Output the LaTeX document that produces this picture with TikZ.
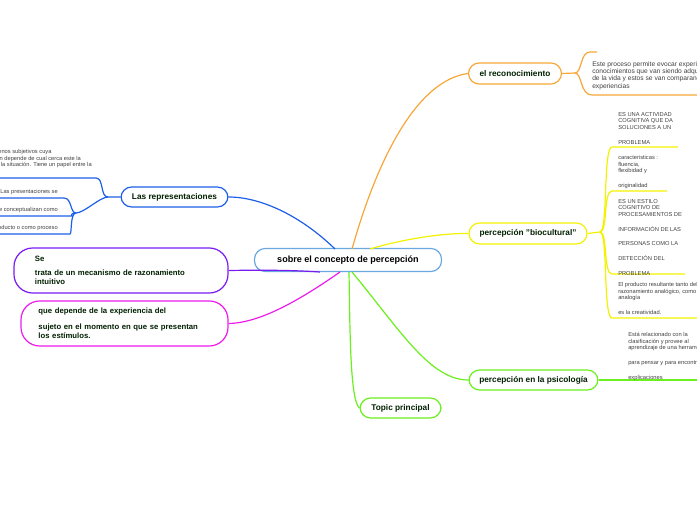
\documentclass[tikz,border=0pt]{standalone}
\usepackage{fontspec}
\setmainfont{Liberation Sans}
\begin{document}
\begin{tikzpicture}[x=0.75pt,y=-0.75pt,
  topic/.style={draw,rounded corners=8pt,line width=0.9pt,font=\fontsize{6.2}{7}\selectfont\bfseries,text=black!80!green!60!black,anchor=center},
  leaf/.style={anchor=north west,align=left,inner sep=0pt,font=\fontsize{4.3}{5}\selectfont,text=black!75},
  lf/.style={line width=0.9pt}]
\path[use as bounding box,clip] (0,0) rectangle (697,520);
\definecolor{cblue}{HTML}{1D5FE8}\definecolor{corange}{HTML}{F7A637}
\definecolor{cyellow}{HTML}{F2F200}\definecolor{cgreen}{HTML}{6AF01C}
\definecolor{cpurple}{HTML}{7A1BF0}\definecolor{cmag}{HTML}{EC1CEC}
\definecolor{clb}{HTML}{6AA8E0}
% nodes
\node[topic,draw=clb,minimum width=187*0.75pt,minimum height=23*0.75pt,font=\fontsize{6.8}{8}\selectfont\bfseries,text=black] (c) at (348,260) {sobre el concepto de percepción};
\node[topic,draw=corange,minimum width=93*0.75pt,minimum height=21*0.75pt] (r) at (515,73.5) {el reconocimiento};
\node[topic,draw=cyellow,minimum width=118*0.75pt,minimum height=21*0.75pt] (b) at (528,233.5) {percepción "biocultural"};
\node[topic,draw=cgreen,minimum width=129*0.75pt,minimum height=20*0.75pt] (p) at (533.5,380) {percepción en la psicología};
\node[topic,draw=cgreen,minimum width=81*0.75pt,minimum height=20*0.75pt] (t) at (400.5,408) {Topic principal};
\node[topic,draw=cblue,minimum width=107*0.75pt,minimum height=20*0.75pt] (l) at (174.5,197) {Las representaciones};
\node[topic,draw=cpurple,rounded corners=14pt,minimum width=214*0.75pt,minimum height=45*0.75pt,text width=172*0.75pt,align=left,font=\fontsize{5.8}{7}\selectfont\bfseries] (s) at (121,270.5) {Se\\[3pt]trata de un mecanismo de razonamiento\\intuitivo};
\node[topic,draw=cmag,rounded corners=14pt,minimum width=207*0.75pt,minimum height=45*0.75pt,text width=172*0.75pt,align=left,font=\fontsize{5.8}{7}\selectfont\bfseries] (q) at (124.5,323.5) {que depende de la experiencia del\\[5pt]sujeto en el momento en que se presentan\\los estímulos.};
% main connectors
\draw[corange,lf] (352,249) .. controls (380,150) and (420,80) .. (r.west);
\draw[cyellow,lf] (370,249) .. controls (400,240) and (440,233) .. (b.west);
\draw[cgreen,lf] (352,272) .. controls (400,330) and (430,380) .. (p.west);
\draw[cgreen,lf] (349,272) .. controls (350,330) and (350,400) .. (t.west);
\draw[cblue,lf] (335,249) .. controls (300,215) and (260,197) .. (l.east);
\draw[cpurple,lf] (320,272) .. controls (290,270) and (260,270) .. (s.east);
\draw[cmag,lf] (340,272) .. controls (300,300) and (260,323) .. (q.east);
% orange leaf
\draw[corange,lf] (r.east) -- (575,73) .. controls (582,73) and (580,52) .. (590,52) -- (597,52);
\draw[corange,lf] (575,73) .. controls (582,73) and (580,95) .. (592,95) -- (697,95);
\node[leaf,font=\fontsize{5}{5.5}\selectfont] (rt) at (592,61) {Este proceso permite evocar experiencias y\\conocimientos que van siendo adquiridos a lo largo\\de la vida y estos se van comparando con nuevas\\experiencias};
% yellow leaves
\draw[cyellow,lf] (b.east) -- (600,232);
\foreach \y/\e in {147/678,191/667,274/685,318/697}{
  \draw[cyellow,lf] (600,232) .. controls (608,232) and (603,\y) .. (612,\y) -- (\e,\y);}
\node[leaf] (y1) at (618,112) {ES UNA ACTIVIDAD\\COGNITIVA QUE DA\\SOLUCIONES A UN\\[6pt]PROBLEMA};
\node[leaf] (y2) at (618,155) {caracteristicas :\\fluencia,\\flexibidad y\\[6pt]originalidad};
\node[leaf] (y3) at (618,199) {ES UN ESTILO\\COGNITIVO DE\\PROCESAMIENTOS DE\\[6pt]INFORMACIÓN DE LAS\\[6pt]PERSONAS COMO LA\\[6pt]DETECCIÓN DEL\\[6pt]PROBLEMA};
\node[leaf] (y4) at (618,282) {El producto resultante tanto del\\razonamiento analógico, como de la\\analogía\\[6pt]es la creatividad.};
% green leaf
\draw[cgreen,lf] (p.east) -- (697,380);
\node[leaf] (g1) at (628,332) {Está relacionado con la\\clasificación y provee al\\aprendizaje de una herramienta\\[6pt]para pensar y para encontrar\\[6pt]explicaciones};
% blue leaves
\draw[cblue,lf] (l.west) -- (108,197) .. controls (100,197) and (104,178) .. (96,178) -- (0,178);
\draw[cblue,lf] (108,197) .. controls (100,197) and (84,213) .. (76,213);
\foreach \y/\e in {198/64,216/72,234/70}{
  \draw[cblue,lf] (76,213) .. controls (70,213) and (72,\y) .. (\e,\y) -- (0,\y);}
\node[leaf,anchor=north east,align=left] (b1) at (92,149) {Son fenómenos subjetivos cuya\\construcción depende de cual cerca este la\\persona de la situación. Tiene un papel entre la};
\node[leaf,anchor=north east] (b2) at (58,189) {Las presentaciones se};
\node[leaf,anchor=north east] (b3) at (58,207) {y se conceptualizan como};
\node[leaf,anchor=north east] (b4) at (58,225) {producto o como proceso};
\end{tikzpicture}
\end{document}
